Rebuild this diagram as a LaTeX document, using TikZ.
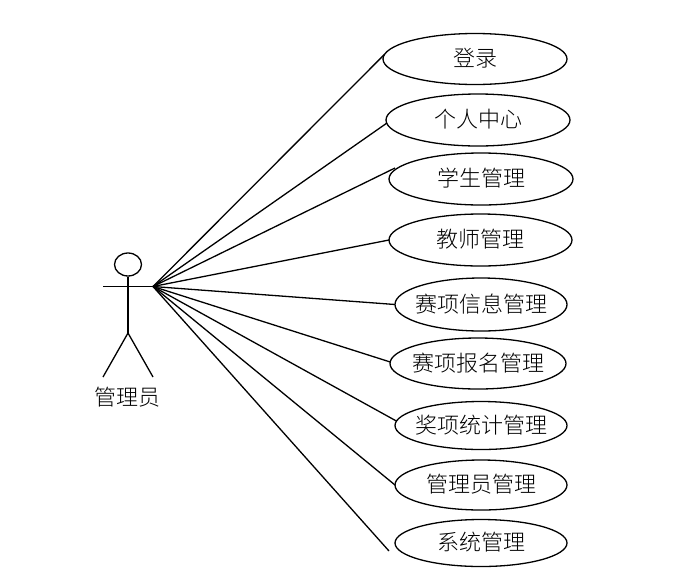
\documentclass[tikz,border=0pt]{standalone}
\usepackage{fontspec}
\usetikzlibrary{shapes.geometric}
\newfontfamily\cjklight{Noto Sans CJK SC Light}
\tikzset{
  line/.style={line width=1.3pt,black},
  uc/.style={draw,ellipse,line width=1.3pt,inner sep=0pt,outer sep=0pt,font=\cjklight\fontsize{22}{26}\selectfont},
}
\begin{document}
\begin{tikzpicture}[x=1pt,y=-1pt]
\useasboundingbox (0,0) rectangle (700,576);
\newcommand{\ucnode}[6]{\node[uc,minimum width=#4pt,minimum height=#5pt] (#1) at (#2,#3) {\raisebox{3pt}{\makebox[0pt][c]{#6}}};}
\ucnode{e1}{475}{59}{184}{51}{登录}
\ucnode{e2}{478}{120}{184}{52}{个人中心}
\ucnode{e3}{481}{179}{184}{52}{学生管理}
\ucnode{e4}{480.5}{240}{183}{52}{教师管理}
\ucnode{e5}{481}{304.5}{172}{53}{赛项信息管理}
\ucnode{e6}{478}{363.5}{176}{51}{赛项报名管理}
\ucnode{e7}{481}{425.5}{172}{48}{奖项统计管理}
\ucnode{e8}{481}{485}{172}{50}{管理员管理}
\ucnode{e9}{481}{543}{172}{47}{系统管理}
% actor
\node[draw,ellipse,line width=1.3pt,minimum width=27pt,minimum height=23pt,inner sep=0pt] (head) at (128,264.5) {};
\coordinate (lefthand) at (103,286.5);
\coordinate (hand) at (153,286.5);
\coordinate (hip) at (128,333);
\coordinate (lfoot) at (103,377);
\coordinate (rfoot) at (153,377);
\draw[line] (head.south) -- (hip);
\draw[line] (lefthand) -- (hand);
\draw[line] (lfoot) -- (hip) -- (rfoot);
\node[font=\cjklight\fontsize{22}{26}\selectfont,inner sep=0pt] (actor) at (127.5,397) {管理员};
% connector free ends
\coordinate (c3) at (395,168);
\coordinate (c9) at (389,551);
\draw[line] (hand) -- (e1.177);
\draw[line] (hand) -- (e2.182);
\draw[line] (hand) -- (c3);
\draw[line] (hand) -- (e4.west);
\draw[line] (hand) -- (e5.west);
\draw[line] (hand) -- (e6.179);
\draw[line] (hand) -- (e7.177);
\draw[line] (hand) -- (e8.west);
\draw[line] (hand) -- (c9);
\end{tikzpicture}
\end{document}
